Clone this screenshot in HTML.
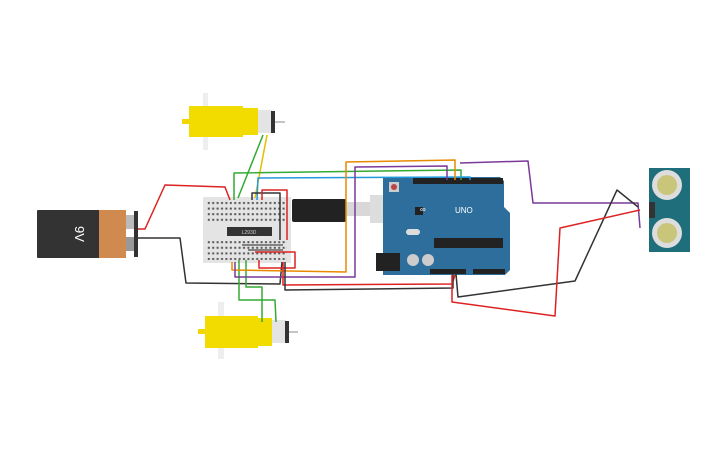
<!DOCTYPE html>
<html><head><style>body{margin:0;background:#fff}svg{display:block}</style></head><body>
<svg width="725" height="453" viewBox="0 0 725 453" xmlns="http://www.w3.org/2000/svg" font-family="Liberation Sans, sans-serif">
<defs>
<pattern id="dots" x="207" y="201" width="4.4" height="5.6" patternUnits="userSpaceOnUse"><rect x="0.8" y="1" width="2" height="2" fill="#555"/></pattern>
</defs>
<rect width="725" height="453" fill="#fff"/>
<!-- top motor -->
<rect x="203" y="93" width="5" height="57" fill="#eee"/>
<rect x="182" y="119" width="7" height="5" fill="#f2d600"/>
<rect x="189" y="106" width="54" height="31" fill="#f2dc00"/>
<rect x="243" y="108" width="15" height="27" fill="#f2dc00"/>
<rect x="258" y="110" width="14" height="23" fill="#e4e4e4"/>
<rect x="271" y="111" width="4" height="22" fill="#333"/>
<line x1="275" y1="122" x2="285" y2="122" stroke="#888"/>
<!-- bottom motor -->
<rect x="218" y="302" width="6" height="57" fill="#eee"/>
<rect x="198" y="329" width="7" height="5" fill="#f2d600"/>
<rect x="205" y="316" width="53" height="32" fill="#f2dc00"/>
<rect x="258" y="318" width="14" height="28" fill="#f2dc00"/>
<rect x="272" y="320" width="14" height="23" fill="#e4e4e4"/>
<rect x="285" y="321" width="4" height="22" fill="#333"/>
<line x1="289" y1="332" x2="298" y2="332" stroke="#888"/>
<!-- battery -->
<rect x="37" y="210" width="63" height="48" fill="#333" rx="1"/>
<rect x="99" y="210" width="27" height="48" fill="#d08a50"/>
<rect x="126" y="215" width="9" height="14" fill="#bbb"/>
<rect x="126" y="237" width="9" height="14" fill="#999"/>
<rect x="134" y="211" width="4" height="46" fill="#333"/>
<text x="75" y="234" fill="#fff" font-size="13" transform="rotate(90 75 234)" text-anchor="middle">9V</text>
<!-- breadboard -->
<rect x="203" y="197" width="88" height="66" fill="#e4e4e4"/>
<rect x="207" y="201" width="80" height="22" fill="url(#dots)"/>
<rect x="207" y="240" width="80" height="20" fill="url(#dots)"/>
<rect x="227" y="227" width="45" height="9" fill="#333"/>
<text x="249" y="234" fill="#ccc" font-size="5" text-anchor="middle">L293D</text>
<line x1="242" y1="245" x2="283" y2="245" stroke="#222"/>
<line x1="248" y1="250" x2="283" y2="250" stroke="#222"/>
<!-- arduino usb -->
<rect x="346" y="202" width="26" height="14" fill="#d8d8d8"/>
<rect x="292" y="199" width="54" height="23" fill="#222" rx="2"/>
<rect x="370" y="195" width="34" height="28" fill="#ddd"/>
<path d="M383 177 H500 L504 181 V207 L510 213 V270 L505 275 H383 Z" fill="#2d6e9c"/>
<rect x="376" y="253" width="24" height="18" fill="#222"/>
<rect x="413" y="178" width="90" height="6" fill="#222"/>
<rect x="430" y="269" width="36" height="5" fill="#222"/>
<rect x="473" y="269" width="32" height="5" fill="#222"/>
<rect x="434" y="238" width="69" height="10" fill="#222"/>
<rect x="389" y="182" width="10" height="10" fill="#ccc"/><circle cx="394" cy="187" r="3" fill="#b44"/>
<rect x="406" y="229" width="14" height="6" rx="3" fill="#ddd"/>
<rect x="415" y="207" width="8" height="8" fill="#222"/>
<circle cx="413" cy="260" r="6" fill="#ccc"/><circle cx="428" cy="260" r="6" fill="#ccc"/>
<text x="455" y="213" fill="#fff" font-size="8">UNO</text>
<text x="420" y="212" fill="#fff" font-size="8">∞</text>
<!-- sensor -->
<rect x="649" y="168" width="41" height="84" fill="#1f6e7c"/>
<circle cx="667" cy="185" r="15" fill="#ddd"/><circle cx="667" cy="185" r="10" fill="#c9c57a"/>
<circle cx="667" cy="233" r="15" fill="#ddd"/><circle cx="667" cy="233" r="10" fill="#c9c57a"/>
<rect x="649" y="202" width="6" height="16" fill="#333"/>
<!-- wires -->
<g fill="none" stroke-width="1.5" stroke-linejoin="round">
<path d="M138 229 L145 229 L165 185 L225 187 L230 200" stroke="#d22"/>
<path d="M138 238 L180 238 L186 283 L280 284 L282 262" stroke="#333"/>
<path d="M263 135 L238 198" stroke="#3a3"/>
<path d="M267 135 L255 198" stroke="#e0c000"/>
<path d="M234 200 L234 173 L461 170 L461 180" stroke="#3a3"/>
<path d="M257 200 L258 178 L470 177 L470 180" stroke="#29d"/>
<path d="M252 200 L252 193 L280 193 L280 240" stroke="#333"/>
<path d="M262 200 L262 190 L287 190 L287 240" stroke="#d22"/>
<path d="M246 260 L246 287 L262 287 L262 322" stroke="#3a3"/>
<path d="M239 260 L239 300 L275 300 L276 322" stroke="#3a3"/>
<path d="M232 262 L232 270 L346 272 L346 162 L455 160 L455 180" stroke="#e88a00"/>
<path d="M235 262 L235 277 L355 277 L355 167 L447 166 L447 180" stroke="#7a3a99"/>
<path d="M259 260 L259 268 L295 268 L295 252 L255 252" stroke="#d22"/>
<path d="M283 262 L283 285 L452 284 L455 275" stroke="#d22"/>
<path d="M285 262 L285 290 L453 288 L453 274" stroke="#333"/>
<path d="M460 163 L528 161 L533 203 L638 203 L640 228" stroke="#7a3a99"/>
<path d="M456 274 L458 297 L575 281 L617 190 L638 207" stroke="#333"/>
<path d="M452 275 L452 302 L555 316 L560 228 L640 210" stroke="#d22"/>
</g>
</svg>
</body></html>
